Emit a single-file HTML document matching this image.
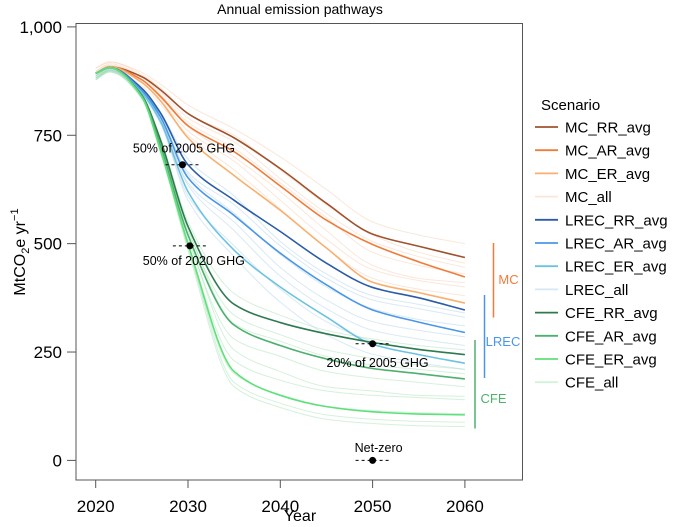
<!DOCTYPE html>
<html><head><meta charset="utf-8"><style>
body{margin:0;background:#fff}
svg{font-family:"Liberation Sans",Arial,sans-serif}
</style></head><body>
<svg width="685" height="522" viewBox="0 0 685 522">
<text x="300" y="14" text-anchor="middle" font-size="14">Annual emission pathways</text>
<rect x="76" y="23.5" width="446.5" height="456.5" fill="none" stroke="#555" stroke-width="1"/>
<g id="axes"></g>
<g id="series"></g>
<g id="annot"></g>
<text transform="translate(25,252) rotate(-90)" text-anchor="middle" font-size="16">MtCO<tspan font-size="11" dy="4">2</tspan><tspan dy="-4">e yr</tspan><tspan font-size="11" dy="-7">−1</tspan></text>
<text x="300" y="521" text-anchor="middle" font-size="16">Year</text>
<g id="legend"></g>
</svg>
<script>
const years=[2020,2021.5,2025,2027,2030,2035,2040,2045,2050,2055,2060];
const yTicks=[0,250,500,750,1000];
const yTickLabels=["0","250","500","750","1,000"];
const xTicks=[2020,2030,2040,2050,2060];
const mcRR=[893,908,885,855,800,744,673,593,522,494,468];
const mcAR=[893,908,878,840,772,712,633,554,498,458,423];
const mcER=[893,908,872,830,744,657,577,490,411,387,363];
const lrecRR=[893,906,858,802,682,600,528,455,399,375,347];
const lrecAR=[893,906,853,793,652,565,478,405,347,319,295];
const lrecER=[893,906,848,783,620,485,400,331,268,244,224];
const cfeRR=[893,906,842,740,540,360,318,292,272,256,244];
const cfeAR=[893,906,840,728,520,312,265,234,212,200,188];
const cfeER=[893,906,838,716,500,205,150,124,112,107,105];
const mcAll=[[905,918,895,868,820,765,700,625,550,520,500],[898,912,884,850,790,735,650,570,505,470,445],[888,906,870,830,760,690,600,510,440,415,400],[905,920,890,860,800,750,670,590,520,480,455],[882,900,864,822,750,670,580,490,420,395,380],[898,915,886,845,780,720,640,560,480,450,430],[893,910,878,836,770,700,620,530,450,420,410]];
const lrecAll=[[888,906,858,798,665,590,495,420,370,350,330],[882,902,847,786,640,550,445,370,320,300,285],[892,910,854,794,660,570,475,400,350,325,310],[878,898,842,778,610,495,395,320,275,255,245],[886,902,845,780,600,470,365,290,245,225,210],[882,898,852,788,635,530,425,350,300,280,265],[892,908,860,804,695,610,505,430,380,360,340]];
const cfeAll=[[886,904,842,745,550,385,335,300,280,265,255],[882,900,840,738,530,335,290,255,235,220,210],[887,905,840,735,535,315,275,240,220,210,200],[882,900,838,730,510,280,240,205,190,180,170],[882,900,838,725,500,230,185,160,150,145,140],[878,896,836,718,490,200,152,125,115,110,108],[882,900,836,716,495,180,132,105,95,90,88],[878,896,834,712,485,170,122,95,85,80,78],[887,905,842,740,520,255,205,170,160,150,148]];
const xS=y=>95.7+(y-2020)*9.23;
const yS=v=>460.4-v*0.4335;
const NS="http://www.w3.org/2000/svg";
function mk(t,a,p){const e=document.createElementNS(NS,t);for(const k in a)e.setAttribute(k,a[k]);p.appendChild(e);return e;}
function path(vals){const p=years.map((y,i)=>[xS(y),yS(vals[i])]);const n=p.length;
const dl=[],m=[];for(let i=0;i<n-1;i++)dl.push((p[i+1][1]-p[i][1])/(p[i+1][0]-p[i][0]));
m[0]=dl[0];m[n-1]=dl[n-2];
for(let i=1;i<n-1;i++){if(dl[i-1]*dl[i]<=0)m[i]=0;else{const h0=p[i][0]-p[i-1][0],h1=p[i+1][0]-p[i][0];m[i]=3*(h0+h1)/((2*h1+h0)/dl[i-1]+(h1+2*h0)/dl[i]);}}
let d="M"+p[0][0]+","+p[0][1];
for(let i=0;i<n-1;i++){const h=(p[i+1][0]-p[i][0])/3;
d+=" C"+(p[i][0]+h)+","+(p[i][1]+m[i]*h)+" "+(p[i+1][0]-h)+","+(p[i+1][1]-m[i+1]*h)+" "+p[i+1][0]+","+p[i+1][1];}return d;}
const ax=document.getElementById('axes');
yTicks.forEach((v,i)=>{const l=mk('line',{x1:67,x2:76,y1:yS(v),y2:yS(v),stroke:'#555'},ax);

const t=mk('text',{x:62,y:yS(v)+6,'text-anchor':'end','font-size':17},ax);t.textContent=yTickLabels[i];
});
xTicks.forEach(v=>{const l=mk('line',{x1:xS(v),x2:xS(v),y1:480,y2:488,stroke:'#555'},ax);

const t=mk('text',{x:xS(v),y:512,'text-anchor':'middle','font-size':17},ax);t.textContent=v;
});
const sg=document.getElementById('series');
function draw(vals,col,w,name,op){const e=mk('path',{d:path(vals),fill:'none',stroke:col,'stroke-width':w,opacity:op||1},sg);
}
mcAll.forEach(v=>draw(v,'#f6c9ad',1,'mc-all-line',0.45));
lrecAll.forEach(v=>draw(v,'#a9cfe8',1,'lrec-all-line',0.45));
cfeAll.forEach(v=>draw(v,'#9fe0b0',1,'cfe-all-line',0.45));
const avgs=[[mcRR,'#a0522d','mc-rr-avg'],[mcAR,'#f07c3a','mc-ar-avg'],[mcER,'#f8b070','mc-er-avg'],[lrecRR,'#2a5ca8','lrec-rr-avg'],[lrecAR,'#4a97e8','lrec-ar-avg'],[lrecER,'#6cc3e0','lrec-er-avg'],[cfeRR,'#2e7a4f','cfe-rr-avg'],[cfeAR,'#4db06e','cfe-ar-avg'],[cfeER,'#5ee07a','cfe-er-avg']];
avgs.forEach(a=>draw(a[0],a[1],1.6,a[2]));
const an=document.getElementById('annot');
const targetYears=[2029.4,2030.2,2050,2050];
const targetVals=[682,495,269,0];
const targetLabels=['50% of 2005 GHG','50% of 2020 GHG','20% of 2005 GHG','Net-zero'];
const labelDx=[1.5,4,5,6];
const labelDy=[-12.5,19,23,-8.5];
targetYears.forEach((ty,i)=>{const cx=xS(ty),cy=yS(targetVals[i]);
const l=mk('line',{x1:cx-17,x2:cx+17,y1:cy,y2:cy,stroke:'#000','stroke-dasharray':'3,3'},an);
const c=mk('circle',{cx:cx,cy:cy,r:3.5,fill:'#000'},an);
const tx=mk('text',{x:cx+labelDx[i],y:cy+labelDy[i],'text-anchor':'middle','font-size':12.5},an);tx.textContent=targetLabels[i];
});
const brackets=[['MC','#f07c3a',493.5,243,317.5,508.5,284],['LREC','#4a97e8',484.5,295,378,503,346],['CFE','#4db06e',475,340,428.5,493.5,403]];
brackets.forEach(b=>{const l=mk('line',{x1:b[2],x2:b[2],y1:b[3],y2:b[4],stroke:b[1],'stroke-width':1.5},an);

const t=mk('text',{x:b[5],y:b[6],fill:b[1],'font-size':13,'text-anchor':'middle'},an);t.textContent=b[0];
});
const lg=document.getElementById('legend');
const st=mk('text',{x:541,y:110,'font-size':15},lg);st.textContent='Scenario';
const legItems=[['MC_RR_avg','#a0522d'],['MC_AR_avg','#f07c3a'],['MC_ER_avg','#f8b070'],['MC_all','#fbe5d8'],['LREC_RR_avg','#2a5ca8'],['LREC_AR_avg','#4a97e8'],['LREC_ER_avg','#6cc3e0'],['LREC_all','#d5e7f5'],['CFE_RR_avg','#2e7a4f'],['CFE_AR_avg','#4db06e'],['CFE_ER_avg','#5ee07a'],['CFE_all','#d2f2da']];
legItems.forEach((it,i)=>{const y=127+i*23.2;
const l=mk('line',{x1:535,x2:558,y1:y,y2:y,stroke:it[1],'stroke-width':1.8},lg);
const t=mk('text',{x:565,y:y+5.5,'font-size':15},lg);t.textContent=it[0];});
</script>
</body></html>
